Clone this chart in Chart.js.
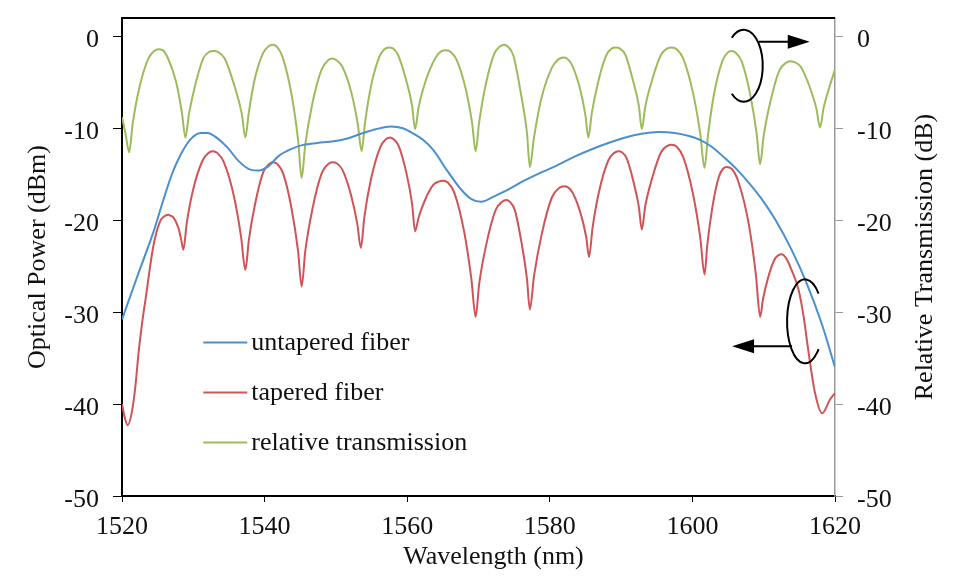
<!DOCTYPE html>
<html>
<head>
<meta charset="utf-8">
<title>Optical power vs wavelength</title>
<script src="https://cdn.jsdelivr.net/npm/chart.js@4/dist/chart.umd.min.js"></script>
<style>
  html, body { margin: 0; padding: 0; background: #fff; }
  #wrap { width: 960px; height: 577px; }
</style>
</head>
<body>
<div id="wrap"><canvas id="spectrum" width="960" height="577"></canvas></div>
<script>
  'use strict';

  // ticks
  const wavelengthTicks = [1520, 1540, 1560, 1580, 1600, 1620];
  const powerTicks = [-50, -40, -30, -20, -10, 0];

  // untapered fiber (dBm)
  const untaperedWl = [1520.0, 1522.2, 1524.4, 1525.8, 1527.0, 1528.2, 1529.6, 1531.0, 1532.0, 1533.4,
    1534.8, 1536.4, 1538.0, 1539.2, 1540.4, 1542.0, 1543.6, 1545.4, 1547.4, 1549.7,
    1551.6, 1553.5, 1555.6, 1557.7, 1559.4, 1560.9, 1562.3, 1563.7, 1565.6, 1567.5,
    1569.0, 1570.4, 1572.2, 1574.1, 1576.4, 1578.8, 1581.1, 1583.4, 1585.8, 1588.2,
    1590.6, 1592.9, 1595.2, 1597.5, 1599.4, 1600.9, 1602.7, 1604.5, 1606.4, 1608.3,
    1610.0, 1611.6, 1613.9, 1616.1, 1618.2, 1620.0];
  const untaperedDbm = [-30.8, -26.0, -21.3, -17.8, -15.0, -12.9, -11.2, -10.5, -10.5, -11.1,
    -12.1, -13.6, -14.5, -14.6, -14.2, -13.0, -12.3, -11.8, -11.6, -11.4,
    -11.1, -10.6, -10.1, -9.8, -10.0, -10.6, -11.3, -12.4, -14.6, -16.6,
    -17.7, -18.0, -17.4, -16.7, -15.7, -14.8, -14.0, -13.1, -12.3, -11.6,
    -11.0, -10.6, -10.4, -10.5, -10.8, -11.2, -12.0, -13.2, -14.6, -16.3,
    -18.0, -19.9, -23.2, -27.0, -31.4, -36.0];

  // tapered fiber (dBm)
  const taperedWl = [1520.0, 1520.4, 1520.8, 1521.4, 1521.9, 1522.3, 1522.8, 1523.3, 1524.4, 1525.3,
    1525.9, 1526.5, 1526.8, 1527.2, 1527.9, 1528.3, 1528.6,
    1529.1, 1530.0, 1531.3, 1532.1, 1532.7, 1533.4, 1534.3, 1535.7, 1536.7, 1537.3,
    1537.8, 1538.7, 1539.8, 1540.6, 1541.2, 1541.8, 1542.6, 1543.8, 1544.7, 1545.2,
    1545.7, 1546.7, 1548.0, 1548.9, 1549.5, 1550.1, 1550.9, 1552.1, 1553.0, 1553.5,
    1554.0, 1554.9, 1556.2, 1557.0, 1557.6, 1558.1, 1558.8, 1559.9, 1560.7, 1561.1,
    1561.6, 1562.5, 1563.6, 1564.4, 1565.0, 1565.7, 1566.6, 1568.0, 1569.0, 1569.6,
    1570.1, 1571.1, 1572.4, 1573.3, 1573.9, 1574.4, 1575.1, 1576.0, 1576.8, 1577.2,
    1577.8, 1578.9, 1580.3, 1581.3, 1582.0, 1582.5, 1583.2, 1584.3, 1585.1, 1585.5,
    1586.0, 1586.9, 1588.2, 1589.0, 1589.6, 1590.1, 1590.8, 1591.7, 1592.5, 1592.9,
    1593.4, 1594.4, 1595.6, 1596.5, 1597.1, 1597.8, 1598.7, 1600.1, 1601.1, 1601.7,
    1602.1, 1602.8, 1603.7, 1604.3, 1604.8, 1605.5, 1606.4, 1607.9, 1608.9, 1609.5,
    1609.9, 1610.6, 1611.5, 1612.1, 1612.5, 1613.2, 1613.9, 1614.9, 1615.6, 1616.3,
    1617.2, 1618.2, 1619.3, 1620.0];
  const taperedDbm = [-40.0, -41.5, -42.3, -40.8, -37.9, -34.6, -31.3, -28.6, -22.8, -20.2,
    -19.6, -19.4, -19.5, -19.7, -20.8, -22.1, -23.2,
    -20.2, -16.6, -13.5, -12.7, -12.5, -12.7, -13.7, -17.4, -21.8, -25.4,
    -22.1, -18.1, -14.8, -13.9, -13.7, -13.9, -14.9, -18.8, -23.4, -27.2,
    -23.4, -18.8, -14.9, -13.9, -13.7, -13.8, -14.5, -17.2, -20.4, -23.0,
    -19.6, -15.6, -12.1, -11.2, -11.0, -11.2, -11.9, -14.9, -18.3, -21.2,
    -19.7, -17.8, -16.2, -15.8, -15.7, -15.9, -17.0, -21.3, -26.4, -30.5,
    -26.9, -22.6, -18.9, -18.0, -17.8, -18.0, -18.9, -22.3, -26.4, -29.7,
    -26.0, -21.4, -17.5, -16.5, -16.3, -16.4, -17.0, -19.2, -21.8, -24.0,
    -20.8, -16.9, -13.5, -12.7, -12.5, -12.6, -13.3, -15.7, -18.6, -21.0,
    -18.4, -15.3, -12.6, -11.9, -11.8, -12.0, -13.1, -17.2, -21.9, -25.9,
    -22.6, -18.6, -15.3, -14.4, -14.2, -14.4, -15.7, -20.4, -25.9, -30.5,
    -28.6, -26.3, -24.3, -23.8, -23.7, -24.2, -25.4, -27.6, -30.5, -34.4,
    -38.8, -41.0, -39.5, -38.8];

  // relative transmission (dB)
  const transmissionWl = [1520.0, 1520.5, 1521.0,
    1521.5, 1522.4, 1523.7, 1524.5, 1525.1, 1525.7, 1526.4, 1527.6, 1528.4, 1528.9,
    1529.4, 1530.3, 1531.4, 1532.2, 1532.8, 1533.5, 1534.4, 1535.7, 1536.8, 1537.3,
    1537.8, 1538.6, 1539.8, 1540.5, 1541.1, 1541.7, 1542.5, 1543.8, 1544.7, 1545.2,
    1545.7, 1546.7, 1548.0, 1548.9, 1549.5, 1550.1, 1550.9, 1552.2, 1553.1, 1553.6,
    1554.1, 1554.9, 1556.1, 1556.8, 1557.4, 1558.0, 1558.7, 1559.8, 1560.7, 1561.1,
    1561.6, 1562.6, 1564.0, 1564.8, 1565.5, 1566.1, 1566.9, 1568.2, 1569.1, 1569.6,
    1570.1, 1571.0, 1572.2, 1573.0, 1573.6, 1574.1, 1574.9, 1575.9, 1576.8, 1577.2,
    1577.8, 1578.8, 1580.3, 1581.2, 1581.9, 1582.4, 1583.1, 1584.2, 1585.0, 1585.4,
    1585.9, 1586.8, 1587.9, 1588.7, 1589.3, 1589.8, 1590.6, 1591.6, 1592.5, 1592.9,
    1593.4, 1594.4, 1595.6, 1596.5, 1597.1, 1597.8, 1598.7, 1600.1, 1601.1, 1601.7,
    1602.2, 1603.0, 1604.2, 1604.9, 1605.5, 1606.1, 1606.9, 1608.1, 1609.0, 1609.5,
    1610.0, 1611.0, 1612.2, 1613.1, 1613.7, 1614.3, 1615.2, 1616.4, 1617.4, 1617.9,
    1618.4, 1619.3, 1620.0];
  const transmissionDb = [-8.8, -10.6, -12.6,
    -9.5, -5.7, -2.4, -1.6, -1.4, -1.5, -2.3, -5.0, -8.3, -11.0,
    -8.4, -5.2, -2.4, -1.7, -1.6, -1.7, -2.4, -5.2, -8.4, -11.0,
    -8.2, -4.7, -1.8, -1.1, -0.9, -1.1, -2.2, -6.4, -11.3, -15.4,
    -11.8, -7.3, -3.6, -2.6, -2.4, -2.6, -3.3, -6.2, -9.7, -12.5,
    -9.3, -5.5, -2.2, -1.4, -1.2, -1.3, -2.0, -4.6, -7.6, -10.1,
    -7.7, -4.8, -2.3, -1.6, -1.5, -1.7, -2.5, -5.7, -9.4, -12.5,
    -9.3, -5.3, -1.9, -1.1, -0.9, -1.1, -2.1, -6.0, -10.5, -14.2,
    -10.9, -6.8, -3.4, -2.5, -2.3, -2.4, -3.1, -5.6, -8.6, -11.0,
    -8.3, -4.9, -2.1, -1.3, -1.2, -1.3, -2.0, -4.6, -7.6, -10.1,
    -7.6, -4.6, -2.0, -1.3, -1.2, -1.4, -2.4, -6.2, -10.6, -14.3,
    -10.7, -6.4, -2.7, -1.8, -1.6, -1.8, -2.7, -6.3, -10.5, -13.9,
    -10.8, -6.9, -3.7, -2.9, -2.7, -2.8, -3.3, -5.4, -7.9, -9.9,
    -7.8, -5.3, -3.6];

  const FONT = 'Liberation Serif';
  Chart.defaults.font.family = FONT;
  Chart.defaults.font.size = 26;
  Chart.defaults.color = '#111';

  function pairs(xs, ys) {
    return xs.map((x, i) => ({ x: x, y: ys[i] }));
  }

  // legend inside the plot, plus frame line, right/x titles and the arrow marks
  const decorations = {
    id: 'decorations',
    afterDraw(chart) {
      const ctx = chart.ctx;
      const area = chart.chartArea;
      const sx = chart.scales.x;
      const sy = chart.scales.y;

      ctx.save();
      // top frame line
      ctx.strokeStyle = '#000';
      ctx.lineWidth = 2;
      ctx.beginPath();
      ctx.moveTo(area.left - 1, area.top);
      ctx.lineTo(area.right, area.top);
      ctx.stroke();

      // legend
      ctx.font = '26px "' + FONT + '"';
      ctx.textBaseline = 'middle';
      ctx.textAlign = 'left';
      chart.data.datasets.forEach((ds, i) => {
        const y = sy.getPixelForValue(-33.3) + i * 50;
        const x0 = sx.getPixelForValue(1531.4);
        ctx.strokeStyle = ds.borderColor;
        ctx.lineWidth = 2;
        ctx.beginPath();
        ctx.moveTo(x0, y);
        ctx.lineTo(x0 + 44, y);
        ctx.stroke();
        ctx.fillStyle = '#111';
        ctx.fillText(ds.label, x0 + 48, y + 1);
      });

      // x title
      ctx.textAlign = 'center';
      ctx.fillText('Wavelength (nm)', (area.left + area.right) / 2 + 15, 557);

      // right title, reads bottom to top
      ctx.save();
      ctx.translate(925, (area.top + area.bottom) / 2);
      ctx.rotate(-Math.PI / 2);
      ctx.fillText('Relative Transmission (dB)', 0, 0);
      ctx.restore();

      // arrow marks
      ctx.strokeStyle = '#000';
      ctx.fillStyle = '#000';
      ctx.lineWidth = 2;
      function arrow(x1, y1, x2, y2) {
        const dir = Math.sign(x2 - x1);
        ctx.beginPath();
        ctx.moveTo(x1, y1);
        ctx.lineTo(x2 - dir * 14, y2);
        ctx.stroke();
        ctx.beginPath();
        ctx.moveTo(x2, y2);
        ctx.lineTo(x2 - dir * 22, y2 - 7);
        ctx.lineTo(x2 - dir * 22, y2 + 7);
        ctx.closePath();
        ctx.fill();
      }
      // right axis marker
      const cx1 = sx.getPixelForValue(1607.2), cy1 = sy.getPixelForValue(-3.2);
      ctx.beginPath();
      ctx.ellipse(cx1, cy1, 19, 36, 0, -2.25, 2.25);
      ctx.stroke();
      arrow(cx1 + 15, cy1 - 24, cx1 + 66, cy1 - 24);
      // left axis marker
      const cx2 = sx.getPixelForValue(1615.8), cy2 = sy.getPixelForValue(-31.0);
      ctx.beginPath();
      ctx.ellipse(cx2, cy2, 18, 42, 0, -0.72, 0.72, true);
      ctx.stroke();
      arrow(cx2 - 13, cy2 + 25, cx2 - 73, cy2 + 25);
      ctx.restore();
    }
  };

  const setTicks = (values) => (scale) => {
    scale.ticks = values.map((v) => ({ value: v }));
  };

  new Chart(document.getElementById('spectrum'), {
    type: 'line',
    data: {
      datasets: [
        {
          label: 'untapered fiber',
          data: pairs(untaperedWl, untaperedDbm),
          borderColor: '#4a8fcf',
          yAxisID: 'y'
        },
        {
          label: 'tapered fiber',
          data: pairs(taperedWl, taperedDbm),
          borderColor: '#cf5456',
          yAxisID: 'y'
        },
        {
          label: 'relative transmission',
          data: pairs(transmissionWl, transmissionDb),
          borderColor: '#9dbb5c',
          yAxisID: 'y2'
        }
      ]
    },
    options: {
      responsive: false,
      animation: false,
      devicePixelRatio: 1,
      layout: { padding: { top: 18, left: 0, right: 0, bottom: 0 } },
      elements: {
        point: { radius: 0 },
        line: { borderWidth: 2, cubicInterpolationMode: 'monotone' }
      },
      plugins: {
        legend: { display: false },
        tooltip: { enabled: false }
      },
      scales: {
        x: {
          type: 'linear',
          min: 1520,
          max: 1620,
          afterBuildTicks: setTicks(wavelengthTicks),
          afterFit: (s) => { s.height = 81; s.paddingLeft = 0; s.paddingRight = 0; },
          ticks: { padding: 10, maxRotation: 0, color: '#111', callback: (v) => String(v) },
          grid: { drawOnChartArea: false, tickLength: 6, tickColor: '#000' },
          border: { color: '#000', width: 2 }
        },
        y: {
          position: 'left',
          min: -50,
          max: 2,
          afterBuildTicks: setTicks(powerTicks),
          afterFit: (s) => { s.width = 122; s.paddingTop = 0; s.paddingBottom = 0; },
          ticks: { padding: 14, labelOffset: 4, color: '#111' },
          grid: { drawOnChartArea: false, tickLength: 9, tickColor: '#000' },
          border: { color: '#000', width: 2 },
          title: { display: true, text: 'Optical Power (dBm)', padding: { top: 23 }, color: '#111' }
        },
        y2: {
          position: 'right',
          min: -50,
          max: 2,
          afterBuildTicks: setTicks(powerTicks),
          afterFit: (s) => { s.width = 125; s.paddingTop = 0; s.paddingBottom = 0; },
          ticks: { padding: 14, labelOffset: 4, color: '#111' },
          grid: { drawOnChartArea: false, tickLength: 8, tickColor: '#999' },
          border: { color: '#999', width: 1.5 }
        }
      }
    },
    plugins: [decorations]
  });
</script>
</body>
</html>
